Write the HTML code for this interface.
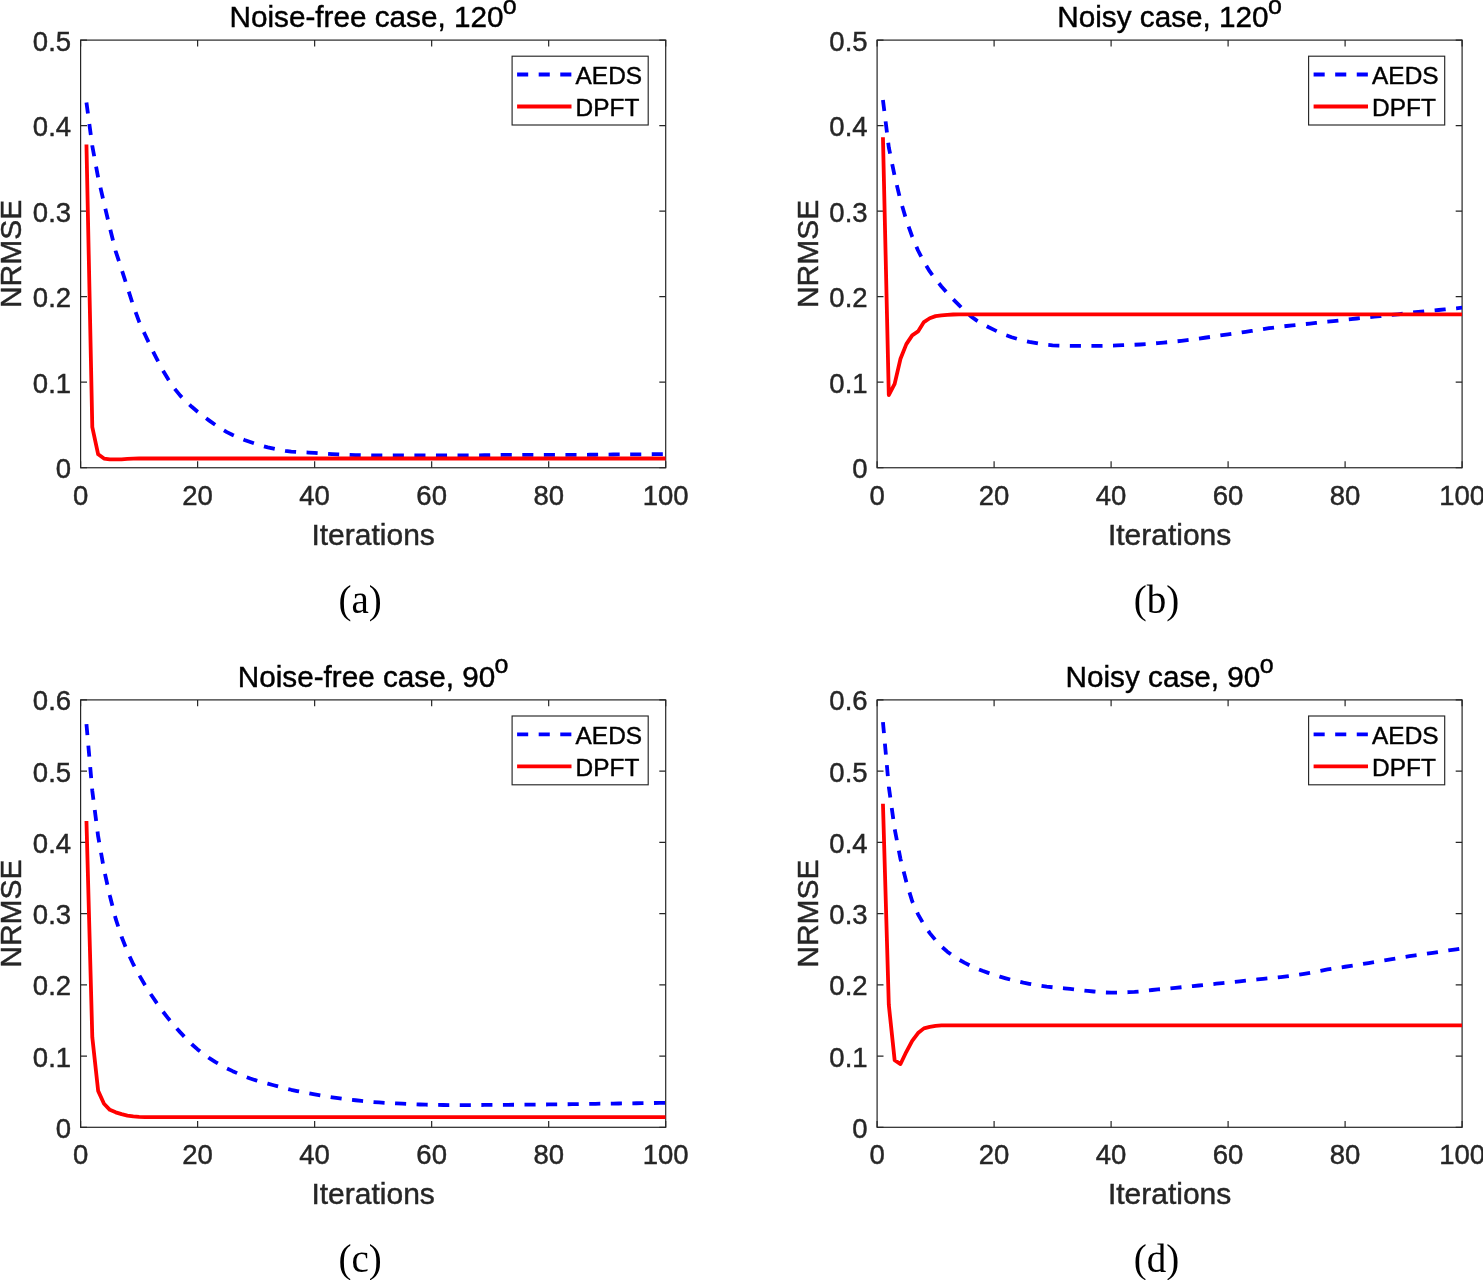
<!DOCTYPE html>
<html><head><meta charset="utf-8"><style>
html,body{margin:0;padding:0;background:#fff;}
svg{display:block;will-change:transform;}
.t{font-family:"Liberation Sans",sans-serif;font-size:27.5px;fill:#262626;stroke:#262626;stroke-width:0.45px;}
.l{font-family:"Liberation Sans",sans-serif;font-size:30.0px;fill:#000;stroke:#000;stroke-width:0.45px;}
.g{font-family:"Liberation Sans",sans-serif;font-size:24.4px;fill:#000;stroke:#000;stroke-width:0.45px;}
.lx{fill:#262626;stroke:#262626;}
.c{font-family:"Liberation Serif",serif;font-size:39.0px;fill:#000;}
</style></head><body>
<svg width="1483" height="1280" viewBox="0 0 1483 1280">
<rect width="1483" height="1280" fill="#fff"/>
<rect x="80.6" y="40.1" width="585.1" height="427.65" fill="none" stroke="#262626" stroke-width="1.2"/>
<path d="M80.6 467.75V461.35M80.6 40.1V46.5M197.62 467.75V461.35M197.62 40.1V46.5M314.64 467.75V461.35M314.64 40.1V46.5M431.66 467.75V461.35M431.66 40.1V46.5M548.68 467.75V461.35M548.68 40.1V46.5M665.7 467.75V461.35M665.7 40.1V46.5M80.6 467.75H87M665.7 467.75H659.3M80.6 382.22H87M665.7 382.22H659.3M80.6 296.69H87M665.7 296.69H659.3M80.6 211.16H87M665.7 211.16H659.3M80.6 125.63H87M665.7 125.63H659.3M80.6 40.1H87M665.7 40.1H659.3" stroke="#262626" stroke-width="1.2" fill="none"/>
<clipPath id="clipa"><rect x="80.6" y="40.1" width="585.1" height="427.65"/></clipPath>
<g clip-path="url(#clipa)"><polyline points="86.45,102.54 92.3,145.97 98.15,177.67 104,203 109.85,227.73 115.71,251.3 121.56,269.33 127.41,287.39 133.26,305.7 139.11,321.68 144.96,334.54 150.81,346.95 156.66,358.69 162.51,369.82 168.37,379.56 174.22,388.2 180.07,395.39 185.92,401.42 191.77,406.78 197.62,411.76 203.47,416.35 209.32,420.64 215.17,424.76 221.02,428.67 226.88,432.13 232.73,435.03 238.58,437.61 244.43,439.93 250.28,442.05 256.13,444.05 261.98,445.86 267.83,447.4 273.68,448.72 279.53,449.92 285.38,450.91 291.24,451.57 297.09,451.98 302.94,452.29 308.79,452.58 314.64,452.94 320.49,453.37 326.34,453.8 332.19,454.17 338.04,454.47 343.89,454.73 349.75,454.95 355.6,455.1 361.45,455.24 367.3,455.35 373.15,455.42 379,455.43 384.85,455.43 390.7,455.43 396.55,455.43 402.4,455.43 408.26,455.43 414.11,455.43 419.96,455.43 425.81,455.43 431.66,455.43 437.51,455.43 443.36,455.43 449.21,455.42 455.06,455.41 460.91,455.39 466.77,455.36 472.62,455.33 478.47,455.3 484.32,455.26 490.17,455.19 496.02,455.07 501.87,454.96 507.72,454.92 513.57,454.92 519.42,454.92 525.28,454.92 531.13,454.92 536.98,454.92 542.83,454.92 548.68,454.92 554.53,454.92 560.38,454.91 566.23,454.89 572.08,454.86 577.93,454.84 583.79,454.8 589.64,454.77 595.49,454.73 601.34,454.65 607.19,454.56 613.04,454.49 618.89,454.44 624.74,454.39 630.59,454.35 636.45,454.31 642.3,454.28 648.15,454.25 654,454.21 659.85,454.18 665.7,454.15" fill="none" stroke="#0000ff" stroke-width="3.8" stroke-dasharray="11.1 10.48" stroke-linejoin="round"/>
<polyline points="86.45,144.45 92.3,427.21 98.15,454.32 104,458.51 109.85,459.37 115.71,459.37 121.56,459.28 127.41,458.94 133.26,458.68 139.11,458.51 144.96,458.51 150.81,458.51 156.66,458.51 162.51,458.51 168.37,458.51 174.22,458.51 180.07,458.51 185.92,458.51 191.77,458.51 197.62,458.51 203.47,458.51 209.32,458.51 215.17,458.51 221.02,458.51 226.88,458.51 232.73,458.51 238.58,458.51 244.43,458.51 250.28,458.51 256.13,458.51 261.98,458.51 267.83,458.51 273.68,458.51 279.53,458.51 285.38,458.51 291.24,458.51 297.09,458.51 302.94,458.51 308.79,458.51 314.64,458.51 320.49,458.51 326.34,458.51 332.19,458.51 338.04,458.51 343.89,458.51 349.75,458.51 355.6,458.51 361.45,458.51 367.3,458.51 373.15,458.51 379,458.51 384.85,458.51 390.7,458.51 396.55,458.51 402.4,458.51 408.26,458.51 414.11,458.51 419.96,458.51 425.81,458.51 431.66,458.51 437.51,458.51 443.36,458.51 449.21,458.51 455.06,458.51 460.91,458.51 466.77,458.51 472.62,458.51 478.47,458.51 484.32,458.51 490.17,458.51 496.02,458.51 501.87,458.51 507.72,458.51 513.57,458.51 519.42,458.51 525.28,458.51 531.13,458.51 536.98,458.51 542.83,458.51 548.68,458.51 554.53,458.51 560.38,458.51 566.23,458.51 572.08,458.51 577.93,458.51 583.79,458.51 589.64,458.51 595.49,458.51 601.34,458.51 607.19,458.51 613.04,458.51 618.89,458.51 624.74,458.51 630.59,458.51 636.45,458.51 642.3,458.51 648.15,458.51 654,458.51 659.85,458.51 665.7,458.51" fill="none" stroke="#ff0000" stroke-width="3.8" stroke-linejoin="round"/></g>
<text x="80.6" y="504.55" text-anchor="middle" class="t">0</text>
<text x="197.62" y="504.55" text-anchor="middle" class="t">20</text>
<text x="314.64" y="504.55" text-anchor="middle" class="t">40</text>
<text x="431.66" y="504.55" text-anchor="middle" class="t">60</text>
<text x="548.68" y="504.55" text-anchor="middle" class="t">80</text>
<text x="665.7" y="504.55" text-anchor="middle" class="t">100</text>
<text x="71.1" y="478.25" text-anchor="end" class="t">0</text>
<text x="71.1" y="392.72" text-anchor="end" class="t">0.1</text>
<text x="71.1" y="307.19" text-anchor="end" class="t">0.2</text>
<text x="71.1" y="221.66" text-anchor="end" class="t">0.3</text>
<text x="71.1" y="136.13" text-anchor="end" class="t">0.4</text>
<text x="71.1" y="50.6" text-anchor="end" class="t">0.5</text>
<text x="373.15" y="27" text-anchor="middle" class="l" style="font-size:29.7px">Noise-free case, 120<tspan dx="-0.6" dy="-13.5" font-size="25">o</tspan></text>
<text x="373.15" y="544.55" text-anchor="middle" class="l lx">Iterations</text>
<text transform="translate(21.1,253.93) rotate(-90)" text-anchor="middle" class="l lx">NRMSE</text>
<text x="360.05" y="612.65" text-anchor="middle" class="c">(a)</text>
<rect x="512.1" y="56.2" width="136.1" height="68.8" fill="#ffffff" stroke="#262626" stroke-width="1.15"/>
<path d="M517.1 74.5H571.5" stroke="#0000ff" stroke-width="3.8" stroke-dasharray="11.1 10.48"/>
<path d="M517.1 106.5H571.5" stroke="#ff0000" stroke-width="3.8"/>
<text x="575.6" y="84.2" class="g">AEDS</text>
<text x="575.6" y="115.9" class="g">DPFT</text>
<rect x="877.1" y="40.1" width="585" height="427.65" fill="none" stroke="#262626" stroke-width="1.2"/>
<path d="M877.1 467.75V461.35M877.1 40.1V46.5M994.1 467.75V461.35M994.1 40.1V46.5M1111.1 467.75V461.35M1111.1 40.1V46.5M1228.1 467.75V461.35M1228.1 40.1V46.5M1345.1 467.75V461.35M1345.1 40.1V46.5M1462.1 467.75V461.35M1462.1 40.1V46.5M877.1 467.75H883.5M1462.1 467.75H1455.7M877.1 382.22H883.5M1462.1 382.22H1455.7M877.1 296.69H883.5M1462.1 296.69H1455.7M877.1 211.16H883.5M1462.1 211.16H1455.7M877.1 125.63H883.5M1462.1 125.63H1455.7M877.1 40.1H883.5M1462.1 40.1H1455.7" stroke="#262626" stroke-width="1.2" fill="none"/>
<clipPath id="clipb"><rect x="877.1" y="40.1" width="585" height="427.65"/></clipPath>
<g clip-path="url(#clipb)"><polyline points="882.95,99.97 888.8,147.38 894.65,175.99 900.5,200.39 906.35,220.04 912.2,236.67 918.05,250.5 923.9,261.93 929.75,271.49 935.6,279.38 941.45,286.41 947.3,293.06 953.15,299.27 959,305.15 964.85,310.93 970.7,316.18 976.55,320.4 982.4,323.92 988.25,327.02 994.1,329.9 999.95,332.64 1005.8,335.13 1011.65,337.22 1017.5,338.98 1023.35,340.52 1029.2,341.83 1035.05,342.91 1040.9,343.92 1046.75,344.77 1052.6,345.3 1058.45,345.53 1064.3,345.72 1070.15,345.83 1076,345.87 1081.85,345.87 1087.7,345.87 1093.55,345.87 1099.4,345.86 1105.25,345.76 1111.1,345.59 1116.95,345.4 1122.8,345.22 1128.65,345.01 1134.5,344.77 1140.35,344.48 1146.2,344.09 1152.05,343.61 1157.9,343.09 1163.75,342.57 1169.6,342.03 1175.45,341.46 1181.3,340.85 1187.15,340.16 1193,339.39 1198.85,338.57 1204.7,337.75 1210.55,336.92 1216.4,336.06 1222.25,335.21 1228.1,334.36 1233.95,333.53 1239.8,332.7 1245.65,331.85 1251.5,330.95 1257.35,330 1263.2,329.08 1269.05,328.22 1274.9,327.43 1280.75,326.69 1286.6,325.99 1292.45,325.33 1298.3,324.74 1304.15,324.17 1310,323.59 1315.85,322.98 1321.7,322.36 1327.55,321.73 1333.4,321.09 1339.25,320.43 1345.1,319.77 1350.95,319.12 1356.8,318.49 1362.65,317.89 1368.5,317.3 1374.35,316.71 1380.2,316.13 1386.05,315.55 1391.9,314.97 1397.75,314.35 1403.6,313.66 1409.45,312.93 1415.3,312.23 1421.15,311.62 1427,311.06 1432.85,310.53 1438.7,310 1444.55,309.44 1450.4,308.87 1456.25,308.3 1462.1,307.72" fill="none" stroke="#0000ff" stroke-width="3.8" stroke-dasharray="11.1 10.48" stroke-linejoin="round"/>
<polyline points="882.95,137.18 888.8,395.05 894.65,383.93 900.5,358.7 906.35,344.16 912.2,335.35 918.05,331.42 923.9,322.09 929.75,318.24 935.6,316.11 941.45,315.34 947.3,314.82 953.15,314.48 959,314.31 964.85,314.31 970.7,314.31 976.55,314.31 982.4,314.31 988.25,314.31 994.1,314.31 999.95,314.31 1005.8,314.31 1011.65,314.31 1017.5,314.31 1023.35,314.31 1029.2,314.31 1035.05,314.31 1040.9,314.31 1046.75,314.31 1052.6,314.31 1058.45,314.31 1064.3,314.31 1070.15,314.31 1076,314.31 1081.85,314.31 1087.7,314.31 1093.55,314.31 1099.4,314.31 1105.25,314.31 1111.1,314.31 1116.95,314.31 1122.8,314.31 1128.65,314.31 1134.5,314.31 1140.35,314.31 1146.2,314.31 1152.05,314.31 1157.9,314.31 1163.75,314.31 1169.6,314.31 1175.45,314.31 1181.3,314.31 1187.15,314.31 1193,314.31 1198.85,314.31 1204.7,314.31 1210.55,314.31 1216.4,314.31 1222.25,314.31 1228.1,314.31 1233.95,314.31 1239.8,314.31 1245.65,314.31 1251.5,314.31 1257.35,314.31 1263.2,314.31 1269.05,314.31 1274.9,314.31 1280.75,314.31 1286.6,314.31 1292.45,314.31 1298.3,314.31 1304.15,314.31 1310,314.31 1315.85,314.31 1321.7,314.31 1327.55,314.31 1333.4,314.31 1339.25,314.31 1345.1,314.31 1350.95,314.31 1356.8,314.31 1362.65,314.31 1368.5,314.31 1374.35,314.31 1380.2,314.31 1386.05,314.31 1391.9,314.31 1397.75,314.31 1403.6,314.31 1409.45,314.31 1415.3,314.31 1421.15,314.31 1427,314.31 1432.85,314.31 1438.7,314.31 1444.55,314.31 1450.4,314.31 1456.25,314.31 1462.1,314.31" fill="none" stroke="#ff0000" stroke-width="3.8" stroke-linejoin="round"/></g>
<text x="877.1" y="504.55" text-anchor="middle" class="t">0</text>
<text x="994.1" y="504.55" text-anchor="middle" class="t">20</text>
<text x="1111.1" y="504.55" text-anchor="middle" class="t">40</text>
<text x="1228.1" y="504.55" text-anchor="middle" class="t">60</text>
<text x="1345.1" y="504.55" text-anchor="middle" class="t">80</text>
<text x="1462.1" y="504.55" text-anchor="middle" class="t">100</text>
<text x="867.6" y="478.25" text-anchor="end" class="t">0</text>
<text x="867.6" y="392.72" text-anchor="end" class="t">0.1</text>
<text x="867.6" y="307.19" text-anchor="end" class="t">0.2</text>
<text x="867.6" y="221.66" text-anchor="end" class="t">0.3</text>
<text x="867.6" y="136.13" text-anchor="end" class="t">0.4</text>
<text x="867.6" y="50.6" text-anchor="end" class="t">0.5</text>
<text x="1169.6" y="27" text-anchor="middle" class="l" style="font-size:29.7px">Noisy case, 120<tspan dx="-0.6" dy="-13.5" font-size="25">o</tspan></text>
<text x="1169.6" y="544.55" text-anchor="middle" class="l lx">Iterations</text>
<text transform="translate(817.6,253.93) rotate(-90)" text-anchor="middle" class="l lx">NRMSE</text>
<text x="1156.5" y="612.65" text-anchor="middle" class="c">(b)</text>
<rect x="1308.6" y="56.2" width="136.1" height="68.8" fill="#ffffff" stroke="#262626" stroke-width="1.15"/>
<path d="M1313.6 74.5H1368" stroke="#0000ff" stroke-width="3.8" stroke-dasharray="11.1 10.48"/>
<path d="M1313.6 106.5H1368" stroke="#ff0000" stroke-width="3.8"/>
<text x="1372.1" y="84.2" class="g">AEDS</text>
<text x="1372.1" y="115.9" class="g">DPFT</text>
<rect x="80.6" y="699.9" width="585.1" height="427.4" fill="none" stroke="#262626" stroke-width="1.2"/>
<path d="M80.6 1127.3V1120.9M80.6 699.9V706.3M197.62 1127.3V1120.9M197.62 699.9V706.3M314.64 1127.3V1120.9M314.64 699.9V706.3M431.66 1127.3V1120.9M431.66 699.9V706.3M548.68 1127.3V1120.9M548.68 699.9V706.3M665.7 1127.3V1120.9M665.7 699.9V706.3M80.6 1127.3H87M665.7 1127.3H659.3M80.6 1056.07H87M665.7 1056.07H659.3M80.6 984.83H87M665.7 984.83H659.3M80.6 913.6H87M665.7 913.6H659.3M80.6 842.37H87M665.7 842.37H659.3M80.6 771.13H87M665.7 771.13H659.3M80.6 699.9H87M665.7 699.9H659.3" stroke="#262626" stroke-width="1.2" fill="none"/>
<clipPath id="clipc"><rect x="80.6" y="699.9" width="585.1" height="427.4"/></clipPath>
<g clip-path="url(#clipc)"><polyline points="86.45,724.12 92.3,790.94 98.15,836.4 104,869.52 109.85,895.77 115.71,918.87 121.56,936.8 127.41,951.62 133.26,964.25 139.11,975.04 144.96,984.96 150.81,994.24 156.66,1002.91 162.51,1011.06 168.37,1018.59 174.22,1025.59 180.07,1032.13 185.92,1038.38 191.77,1044.24 197.62,1049.39 203.47,1054.02 209.32,1058.2 215.17,1061.92 221.02,1065.27 226.88,1068.33 232.73,1071.15 238.58,1073.81 244.43,1076.29 250.28,1078.51 256.13,1080.42 261.98,1082.11 267.83,1083.67 273.68,1085.22 279.53,1086.79 285.38,1088.33 291.24,1089.77 297.09,1091.05 302.94,1092.22 308.79,1093.32 314.64,1094.36 320.49,1095.37 326.34,1096.34 332.19,1097.26 338.04,1098.09 343.89,1098.86 349.75,1099.57 355.6,1100.24 361.45,1100.86 367.3,1101.47 373.15,1102.02 379,1102.48 384.85,1102.83 390.7,1103.12 396.55,1103.39 402.4,1103.67 408.26,1103.97 414.11,1104.27 419.96,1104.52 425.81,1104.68 431.66,1104.83 437.51,1104.94 443.36,1105 449.21,1105.04 455.06,1105.06 460.91,1105.07 466.77,1105.07 472.62,1105.05 478.47,1105 484.32,1104.95 490.17,1104.91 496.02,1104.88 501.87,1104.84 507.72,1104.81 513.57,1104.77 519.42,1104.73 525.28,1104.69 531.13,1104.64 536.98,1104.59 542.83,1104.53 548.68,1104.47 554.53,1104.4 560.38,1104.33 566.23,1104.25 572.08,1104.17 577.93,1104.07 583.79,1103.97 589.64,1103.87 595.49,1103.78 601.34,1103.7 607.19,1103.63 613.04,1103.55 618.89,1103.48 624.74,1103.4 630.59,1103.32 636.45,1103.24 642.3,1103.17 648.15,1103.09 654,1103.02 659.85,1102.94 665.7,1102.87" fill="none" stroke="#0000ff" stroke-width="3.8" stroke-dasharray="11.1 10.48" stroke-linejoin="round"/>
<polyline points="86.45,821 92.3,1037.19 98.15,1090.9 104,1103.79 109.85,1109.85 115.71,1112.34 121.56,1114.12 127.41,1115.55 133.26,1116.33 139.11,1116.83 144.96,1117.04 150.81,1117.11 156.66,1117.11 162.51,1117.11 168.37,1117.11 174.22,1117.11 180.07,1117.11 185.92,1117.11 191.77,1117.11 197.62,1117.11 203.47,1117.11 209.32,1117.11 215.17,1117.11 221.02,1117.11 226.88,1117.11 232.73,1117.11 238.58,1117.11 244.43,1117.11 250.28,1117.11 256.13,1117.11 261.98,1117.11 267.83,1117.11 273.68,1117.11 279.53,1117.11 285.38,1117.11 291.24,1117.11 297.09,1117.11 302.94,1117.11 308.79,1117.11 314.64,1117.11 320.49,1117.11 326.34,1117.11 332.19,1117.11 338.04,1117.11 343.89,1117.11 349.75,1117.11 355.6,1117.11 361.45,1117.11 367.3,1117.11 373.15,1117.11 379,1117.11 384.85,1117.11 390.7,1117.11 396.55,1117.11 402.4,1117.11 408.26,1117.11 414.11,1117.11 419.96,1117.11 425.81,1117.11 431.66,1117.11 437.51,1117.11 443.36,1117.11 449.21,1117.11 455.06,1117.11 460.91,1117.11 466.77,1117.11 472.62,1117.11 478.47,1117.11 484.32,1117.11 490.17,1117.11 496.02,1117.11 501.87,1117.11 507.72,1117.11 513.57,1117.11 519.42,1117.11 525.28,1117.11 531.13,1117.11 536.98,1117.11 542.83,1117.11 548.68,1117.11 554.53,1117.11 560.38,1117.11 566.23,1117.11 572.08,1117.11 577.93,1117.11 583.79,1117.11 589.64,1117.11 595.49,1117.11 601.34,1117.11 607.19,1117.11 613.04,1117.11 618.89,1117.11 624.74,1117.11 630.59,1117.11 636.45,1117.11 642.3,1117.11 648.15,1117.11 654,1117.11 659.85,1117.11 665.7,1117.11" fill="none" stroke="#ff0000" stroke-width="3.8" stroke-linejoin="round"/></g>
<text x="80.6" y="1164.1" text-anchor="middle" class="t">0</text>
<text x="197.62" y="1164.1" text-anchor="middle" class="t">20</text>
<text x="314.64" y="1164.1" text-anchor="middle" class="t">40</text>
<text x="431.66" y="1164.1" text-anchor="middle" class="t">60</text>
<text x="548.68" y="1164.1" text-anchor="middle" class="t">80</text>
<text x="665.7" y="1164.1" text-anchor="middle" class="t">100</text>
<text x="71.1" y="1137.8" text-anchor="end" class="t">0</text>
<text x="71.1" y="1066.57" text-anchor="end" class="t">0.1</text>
<text x="71.1" y="995.33" text-anchor="end" class="t">0.2</text>
<text x="71.1" y="924.1" text-anchor="end" class="t">0.3</text>
<text x="71.1" y="852.87" text-anchor="end" class="t">0.4</text>
<text x="71.1" y="781.63" text-anchor="end" class="t">0.5</text>
<text x="71.1" y="710.4" text-anchor="end" class="t">0.6</text>
<text x="373.15" y="686.8" text-anchor="middle" class="l" style="font-size:29.7px">Noise-free case, 90<tspan dx="-0.6" dy="-13.5" font-size="25">o</tspan></text>
<text x="373.15" y="1204.1" text-anchor="middle" class="l lx">Iterations</text>
<text transform="translate(21.1,913.6) rotate(-90)" text-anchor="middle" class="l lx">NRMSE</text>
<text x="360.05" y="1272.2" text-anchor="middle" class="c">(c)</text>
<rect x="512.1" y="716" width="136.1" height="68.8" fill="#ffffff" stroke="#262626" stroke-width="1.15"/>
<path d="M517.1 734.3H571.5" stroke="#0000ff" stroke-width="3.8" stroke-dasharray="11.1 10.48"/>
<path d="M517.1 766.3H571.5" stroke="#ff0000" stroke-width="3.8"/>
<text x="575.6" y="744" class="g">AEDS</text>
<text x="575.6" y="775.7" class="g">DPFT</text>
<rect x="877.1" y="699.9" width="585" height="427.4" fill="none" stroke="#262626" stroke-width="1.2"/>
<path d="M877.1 1127.3V1120.9M877.1 699.9V706.3M994.1 1127.3V1120.9M994.1 699.9V706.3M1111.1 1127.3V1120.9M1111.1 699.9V706.3M1228.1 1127.3V1120.9M1228.1 699.9V706.3M1345.1 1127.3V1120.9M1345.1 699.9V706.3M1462.1 1127.3V1120.9M1462.1 699.9V706.3M877.1 1127.3H883.5M1462.1 1127.3H1455.7M877.1 1056.07H883.5M1462.1 1056.07H1455.7M877.1 984.83H883.5M1462.1 984.83H1455.7M877.1 913.6H883.5M1462.1 913.6H1455.7M877.1 842.37H883.5M1462.1 842.37H1455.7M877.1 771.13H883.5M1462.1 771.13H1455.7M877.1 699.9H883.5M1462.1 699.9H1455.7" stroke="#262626" stroke-width="1.2" fill="none"/>
<clipPath id="clipd"><rect x="877.1" y="699.9" width="585" height="427.4"/></clipPath>
<g clip-path="url(#clipd)"><polyline points="882.95,722.12 888.8,786.72 894.65,828.83 900.5,859.11 906.35,882 912.2,901.26 918.05,914.33 923.9,924.62 929.75,933.1 935.6,940.27 941.45,946.51 947.3,951.68 953.15,955.96 959,959.66 964.85,962.9 970.7,965.81 976.55,968.4 982.4,970.75 988.25,972.89 994.1,974.86 999.95,976.66 1005.8,978.32 1011.65,979.89 1017.5,981.33 1023.35,982.64 1029.2,983.79 1035.05,984.85 1040.9,985.8 1046.75,986.61 1052.6,987.27 1058.45,987.81 1064.3,988.34 1070.15,988.93 1076,989.62 1081.85,990.33 1087.7,990.96 1093.55,991.49 1099.4,992.03 1105.25,992.47 1111.1,992.67 1116.95,992.61 1122.8,992.44 1128.65,992.19 1134.5,991.89 1140.35,991.39 1146.2,990.71 1152.05,990.01 1157.9,989.43 1163.75,988.89 1169.6,988.35 1175.45,987.81 1181.3,987.24 1187.15,986.66 1193,986.07 1198.85,985.49 1204.7,984.9 1210.55,984.31 1216.4,983.72 1222.25,983.12 1228.1,982.53 1233.95,981.93 1239.8,981.33 1245.65,980.72 1251.5,980.1 1257.35,979.48 1263.2,978.87 1269.05,978.31 1274.9,977.75 1280.75,977.15 1286.6,976.45 1292.45,975.65 1298.3,974.78 1304.15,973.85 1310,972.81 1315.85,971.67 1321.7,970.52 1327.55,969.49 1333.4,968.54 1339.25,967.64 1345.1,966.75 1350.95,965.84 1356.8,964.95 1362.65,964.05 1368.5,963.12 1374.35,962.16 1380.2,961.18 1386.05,960.19 1391.9,959.2 1397.75,958.2 1403.6,957.2 1409.45,956.24 1415.3,955.35 1421.15,954.51 1427,953.69 1432.85,952.84 1438.7,951.96 1444.55,951.06 1450.4,950.16 1456.25,949.26 1462.1,948.36" fill="none" stroke="#0000ff" stroke-width="3.8" stroke-dasharray="11.1 10.48" stroke-linejoin="round"/>
<polyline points="882.95,803.76 888.8,1004.78 894.65,1060.2 900.5,1064.04 906.35,1051.79 912.2,1040.89 918.05,1033.06 923.9,1028.36 929.75,1026.86 935.6,1025.79 941.45,1025.44 947.3,1025.29 953.15,1025.29 959,1025.29 964.85,1025.29 970.7,1025.29 976.55,1025.29 982.4,1025.29 988.25,1025.29 994.1,1025.29 999.95,1025.29 1005.8,1025.29 1011.65,1025.29 1017.5,1025.29 1023.35,1025.29 1029.2,1025.29 1035.05,1025.29 1040.9,1025.29 1046.75,1025.29 1052.6,1025.29 1058.45,1025.29 1064.3,1025.29 1070.15,1025.29 1076,1025.29 1081.85,1025.29 1087.7,1025.29 1093.55,1025.29 1099.4,1025.29 1105.25,1025.29 1111.1,1025.29 1116.95,1025.29 1122.8,1025.29 1128.65,1025.29 1134.5,1025.29 1140.35,1025.29 1146.2,1025.29 1152.05,1025.29 1157.9,1025.29 1163.75,1025.29 1169.6,1025.29 1175.45,1025.29 1181.3,1025.29 1187.15,1025.29 1193,1025.29 1198.85,1025.29 1204.7,1025.29 1210.55,1025.29 1216.4,1025.29 1222.25,1025.29 1228.1,1025.29 1233.95,1025.29 1239.8,1025.29 1245.65,1025.29 1251.5,1025.29 1257.35,1025.29 1263.2,1025.29 1269.05,1025.29 1274.9,1025.29 1280.75,1025.29 1286.6,1025.29 1292.45,1025.29 1298.3,1025.29 1304.15,1025.29 1310,1025.29 1315.85,1025.29 1321.7,1025.29 1327.55,1025.29 1333.4,1025.29 1339.25,1025.29 1345.1,1025.29 1350.95,1025.29 1356.8,1025.29 1362.65,1025.29 1368.5,1025.29 1374.35,1025.29 1380.2,1025.29 1386.05,1025.29 1391.9,1025.29 1397.75,1025.29 1403.6,1025.29 1409.45,1025.29 1415.3,1025.29 1421.15,1025.29 1427,1025.29 1432.85,1025.29 1438.7,1025.29 1444.55,1025.29 1450.4,1025.29 1456.25,1025.29 1462.1,1025.29" fill="none" stroke="#ff0000" stroke-width="3.8" stroke-linejoin="round"/></g>
<text x="877.1" y="1164.1" text-anchor="middle" class="t">0</text>
<text x="994.1" y="1164.1" text-anchor="middle" class="t">20</text>
<text x="1111.1" y="1164.1" text-anchor="middle" class="t">40</text>
<text x="1228.1" y="1164.1" text-anchor="middle" class="t">60</text>
<text x="1345.1" y="1164.1" text-anchor="middle" class="t">80</text>
<text x="1462.1" y="1164.1" text-anchor="middle" class="t">100</text>
<text x="867.6" y="1137.8" text-anchor="end" class="t">0</text>
<text x="867.6" y="1066.57" text-anchor="end" class="t">0.1</text>
<text x="867.6" y="995.33" text-anchor="end" class="t">0.2</text>
<text x="867.6" y="924.1" text-anchor="end" class="t">0.3</text>
<text x="867.6" y="852.87" text-anchor="end" class="t">0.4</text>
<text x="867.6" y="781.63" text-anchor="end" class="t">0.5</text>
<text x="867.6" y="710.4" text-anchor="end" class="t">0.6</text>
<text x="1169.6" y="686.8" text-anchor="middle" class="l" style="font-size:29.7px">Noisy case, 90<tspan dx="-0.6" dy="-13.5" font-size="25">o</tspan></text>
<text x="1169.6" y="1204.1" text-anchor="middle" class="l lx">Iterations</text>
<text transform="translate(817.6,913.6) rotate(-90)" text-anchor="middle" class="l lx">NRMSE</text>
<text x="1156.5" y="1272.2" text-anchor="middle" class="c">(d)</text>
<rect x="1308.6" y="716" width="136.1" height="68.8" fill="#ffffff" stroke="#262626" stroke-width="1.15"/>
<path d="M1313.6 734.3H1368" stroke="#0000ff" stroke-width="3.8" stroke-dasharray="11.1 10.48"/>
<path d="M1313.6 766.3H1368" stroke="#ff0000" stroke-width="3.8"/>
<text x="1372.1" y="744" class="g">AEDS</text>
<text x="1372.1" y="775.7" class="g">DPFT</text>
</svg></body></html>
